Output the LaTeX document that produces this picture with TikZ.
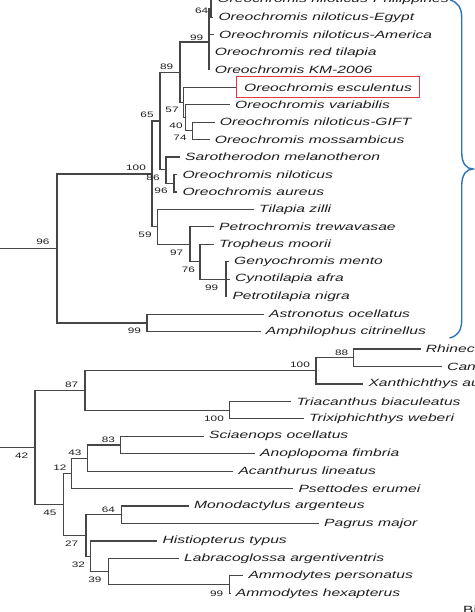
\documentclass[tikz,border=0pt]{standalone}
\usepackage{fontspec}
\newfontfamily\labfont[FakeStretch=1.49]{Liberation Sans}
\definecolor{branch}{RGB}{70,70,70}
\definecolor{txt}{RGB}{30,30,30}
\definecolor{boxred}{RGB}{222,58,68}
\definecolor{braceblue}{RGB}{46,117,182}

\begin{document}
\begin{tikzpicture}[x=1pt,y=-1pt,
  br/.style={draw=branch,line width=1.2pt},
  leaf/.style={anchor=west,inner xsep=5pt,inner ysep=1pt,text=txt,
    font=\labfont\itshape\fontsize{10.5}{12}\selectfont},
  bs/.style={text=txt,inner sep=0pt,font=\labfont\fontsize{7.9}{9}\selectfont}]
  \useasboundingbox (0,0) rectangle (474,612);
  % internal nodes of the two trees
  \coordinate (n96) at (57,248.4);   \coordinate (n100) at (152,174);
  \coordinate (n65) at (160,121.1);  \coordinate (n89) at (180,72.4);
  \coordinate (n99a) at (209,42);    \coordinate (n64) at (211,8.7);
  \coordinate (n57) at (183.3,102.7);\coordinate (n40) at (185.7,117.6);
  \coordinate (n74) at (192.7,130.9);\coordinate (n86) at (166,169.8);
  \coordinate (n96b) at (174,183.2); \coordinate (n59) at (157.7,226.8);
  \coordinate (n97) at (190,244.2);  \coordinate (n76) at (200,261.7);
  \coordinate (n99c) at (226,279.2); \coordinate (n99d) at (147,322.9);
  \coordinate (n42) at (35,447.5);   \coordinate (n87) at (85,390.5);
  \coordinate (n100a) at (316,370.8);\coordinate (n88) at (353.3,357.7);
  \coordinate (n100b) at (229.3,410.1);\coordinate (n45) at (63.3,504.5);
  \coordinate (n12) at (71.7,473.4); \coordinate (n43) at (87.3,458.1);
  \coordinate (n83) at (120.7,445);  \coordinate (n27) at (86,535.5);
  \coordinate (n64b) at (121.7,514.8);\coordinate (n32) at (90.7,556.2);
  \coordinate (n39) at (108.3,571.5);\coordinate (n99e) at (229.3,584.6);
  \coordinate (r1) at (0,248.4);     \coordinate (r2) at (0,447.5);

  % leaves: name/row/tip/label
  \foreach \n/\r/\t/\s in {
    phil/0/212.3/Oreochromis niloticus-Philippines,
    egy/1/213.3/Oreochromis niloticus-Egypt,
    ame/2/214/Oreochromis niloticus-America,
    red/3/209.7/Oreochromis red tilapia,
    km/4/209.7/Oreochromis KM-2006,
    var/6/230/Oreochromis variabilis,
    gift/7/214.7/Oreochromis niloticus-GIFT,
    mos/8/209.7/Oreochromis mossambicus,
    sar/9/180/Sarotherodon melanotheron,
    nil/10/177.3/Oreochromis niloticus,
    aur/11/177.3/Oreochromis aureus,
    zil/12/254/Tilapia zilli,
    pet/13/214/Petrochromis trewavasae,
    tro/14/214/Tropheus moorii,
    gen/15/229/Genyochromis mento,
    cyn/16/230/Cynotilapia afra,
    ptl/17/227.3/Petrotilapia nigra,
    ast/18/264/Astronotus ocellatus,
    amp/19/260.7/Amphilophus citrinellus,
    rhi/20/420.7/Rhineca,
    can/21/442/Can,
    xan/22/363.3/Xanthichthys au,
    tri/23/291.3/Triacanthus biaculeatus,
    trx/24/304/Trixiphichthys weberi,
    sci/25/204/Sciaenops ocellatus,
    ano/26/255/Anoplopoma fimbria,
    aca/27/233.3/Acanthurus lineatus,
    pse/28/293.3/Psettodes erumei,
    mon/29/189/Monodactylus argenteus,
    pag/30/319/Pagrus major,
    his/31/157.3/Histiopterus typus,
    lab/32/179/Labracoglossa argentiventris,
    amper/33/243.3/Ammodytes personatus,
    amhex/34/230.7/Ammodytes hexapterus}
    \node[leaf] (\n) at (\t,17.45*\r) {\s};
  \node[leaf,draw=boxred,line width=0.9pt,inner xsep=8pt,text width=167pt,
    minimum height=20.7pt] (esc) at (235.7,87.25) {\mbox{Oreochromis esculentus}};

  % branches
  \draw[br] (r1) -- (n96);
  \draw[br] (r2) -- (n42);
  \foreach \p/\c in {n96/n100,n96/n99d,n100/n65,n100/n59,n65/n89,n65/n86,
      n89/n99a,n89/n57,n99a/n64,n57/n40,n40/n74,n86/n96b,n59/n97,n97/n76,
      n76/n99c,n42/n87,n42/n45,n87/n100a,n87/n100b,n100a/n88,n45/n12,
      n45/n27,n12/n43,n43/n83,n27/n64b,n27/n32,n32/n39,n39/n99e}
    \draw[br] (\p) |- (\c);
  \foreach \p/\c in {n64/phil,n64/egy,n99a/ame,n99a/red,n99a/km,n57/esc,
      n40/var,n74/gift,n74/mos,n86/sar,n96b/nil,n96b/aur,n59/zil,n97/pet,
      n76/tro,n99c/gen,n99c/cyn,n99c/ptl,n99d/ast,n99d/amp,n88/rhi,n88/can,
      n100a/xan,n100b/tri,n100b/trx,n83/sci,n83/ano,n43/aca,n12/pse,
      n64b/mon,n64b/pag,n32/his,n39/lab,n99e/amper,n99e/amhex}
    \draw[br] (\p) |- (\c.west);

  % bootstrap values
  \foreach \v/\x/\y [count=\i] in {64/201.7/11,99/196.7/37.3,89/166.7/66.7,
      65/147/115,57/172/110,40/176/126,74/180/138,100/136/168,86/153/178,
      96/161/191,59/145/234.3,97/176.7/252.3,76/188.3/270,99/211.7/287.3,
      96/43/242,99/134.3/331,42/21.7/456,87/71.7/384.3,100/300/365,
      88/341.7/352.3,100/214/419,83/108.3/439.3,43/75/452.7,12/60/467.3,
      45/50/513.3,64/108.3/509.3,27/71.7/544,32/78.3/565,39/95/580,
      99/216.7/593.3}
    \node[bs] (b\i) at (\x,\y) {\v};

  % brace on the right
  \draw[draw=braceblue,line width=1.4pt]
    (450,0) .. controls (458,2) and (461.7,8) .. (461.7,18) -- (461.7,152)
    .. controls (461.7,163) and (466,169) .. (473,169)
    .. controls (466,169) and (461.7,175) .. (461.7,186) -- (461.7,320)
    .. controls (461.7,330) and (458,336) .. (449.5,338);
  \node[anchor=base west,inner sep=0pt,text=txt,
    font=\labfont\fontsize{10.5}{12}\selectfont] (cut) at (463,613.5) {Bi};
\end{tikzpicture}
\end{document}
